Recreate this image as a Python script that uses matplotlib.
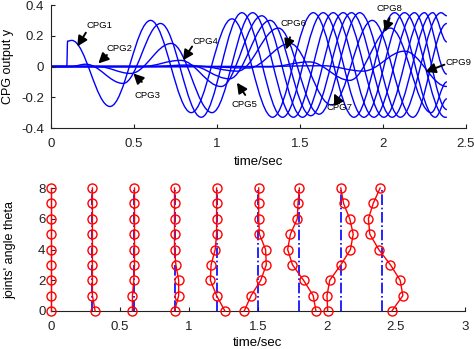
import matplotlib
matplotlib.use("Agg")
import matplotlib.pyplot as plt
from matplotlib.path import Path
from matplotlib.patches import PathPatch

plt.rcParams['font.family'] = ['Liberation Sans', 'DejaVu Sans']

# upper panel: turning points (time, output) of each CPG
cpg1_t = [0, 0.095, 0.10, 0.125, 0.355, 0.60, 0.845, 1.09, 1.335, 1.58, 1.825, 2.07, 2.315, 2.385]
cpg1_y = [0, 0, 0.165, 0.17, -0.26, 0.30, -0.30, 0.31, -0.33, 0.35, -0.33, 0.35, -0.33, -0.21]
cpg2_t = [0, 0.12, 0.21, 0.435, 0.66, 0.905, 1.15, 1.395, 1.64, 1.885, 2.13, 2.375, 2.385]
cpg2_y = [0, 0, 0.015, -0.11, 0.28, -0.33, 0.35, -0.33, 0.35, -0.33, 0.35, -0.33, -0.33]
cpg3_t = [0, 0.28, 0.48, 0.725, 0.97, 1.215, 1.46, 1.70, 1.945, 2.19, 2.385]
cpg3_y = [0, 0, -0.045, 0.15, -0.30, 0.35, -0.33, 0.35, -0.33, 0.35, -0.28]
cpg4_t = [0, 0.55, 0.78, 1.025, 1.27, 1.515, 1.76, 2.005, 2.25, 2.385]
cpg4_y = [0, 0, 0.04, -0.13, 0.33, -0.33, 0.35, -0.33, 0.35, -0.05]
cpg5_t = [0, 0.6, 0.83, 1.075, 1.32, 1.565, 1.81, 2.055, 2.30, 2.385]
cpg5_y = [0, 0, 0.01, -0.08, 0.30, -0.32, 0.35, -0.33, 0.35, 0.16]
cpg6_t = [0, 0.7, 0.88, 1.125, 1.37, 1.615, 1.86, 2.105, 2.35, 2.385]
cpg6_y = [0, 0, 0.003, -0.03, 0.25, -0.31, 0.35, -0.33, 0.35, 0.33]
cpg7_t = [0, 0.9, 1.19, 1.44, 1.69, 1.935, 2.18, 2.385]
cpg7_y = [0, 0, -0.01, 0.15, -0.25, 0.30, -0.33, 0.28]
cpg8_t = [0, 1.1, 1.31, 1.555, 1.80, 2.045, 2.29, 2.385]
cpg8_y = [0, 0, -0.003, 0.03, -0.09, 0.25, -0.30, -0.10]
cpg9_t = [0, 1.2, 1.64, 1.88, 2.13, 2.385]
cpg9_y = [0, 0, 0.005, -0.03, 0.10, -0.13]

# lower panel: snapshot times and joint positions (joint 0..8)
snap_times = [0, 0.3, 0.6, 0.9, 1.2, 1.5, 1.8, 2.1, 2.4]
joints = [0, 1, 2, 3, 4, 5, 6, 7, 8]
pose0 = [0, 0, 0, 0, 0, 0, 0, 0, 0]
pose1 = [0.32, 0.30, 0.30, 0.30, 0.30, 0.30, 0.30, 0.30, 0.30]
pose2 = [0.59, 0.59, 0.60, 0.605, 0.605, 0.605, 0.605, 0.605, 0.605]
pose3 = [0.895, 0.925, 0.925, 0.905, 0.895, 0.895, 0.895, 0.895, 0.895]
pose4 = [1.26, 1.20, 1.155, 1.16, 1.19, 1.20, 1.20, 1.20, 1.20]
pose5 = [1.40, 1.45, 1.52, 1.56, 1.555, 1.51, 1.505, 1.505, 1.505]
pose6 = [1.92, 1.90, 1.83, 1.75, 1.715, 1.735, 1.785, 1.79, 1.80]
pose7 = [2.005, 2.0, 2.02, 2.10, 2.17, 2.19, 2.165, 2.12, 2.10]
pose8 = [2.47, 2.55, 2.53, 2.46, 2.375, 2.31, 2.30, 2.335, 2.385]


def smooth_curve(ts, ys):
    # cubic pieces with flat tangents at every turning point
    verts = [(ts[0], ys[0])]
    codes = [Path.MOVETO]
    for i in range(1, len(ts)):
        d = (ts[i] - ts[i - 1]) * 0.3634
        verts += [(ts[i - 1] + d, ys[i - 1]), (ts[i] - d, ys[i]), (ts[i], ys[i])]
        codes += [Path.CURVE4] * 3
    return Path(verts, codes)


fig = plt.figure(figsize=(4.74, 3.49), dpi=100)
ax1 = fig.add_axes([0.1076, 0.6332, 0.8755, 0.3524])
ax2 = fig.add_axes([0.1076, 0.1089, 0.8734, 0.3524])

for ts, ys in [(cpg1_t, cpg1_y), (cpg2_t, cpg2_y), (cpg3_t, cpg3_y),
               (cpg4_t, cpg4_y), (cpg5_t, cpg5_y), (cpg6_t, cpg6_y),
               (cpg7_t, cpg7_y), (cpg8_t, cpg8_y), (cpg9_t, cpg9_y)]:
    ax1.add_patch(PathPatch(smooth_curve(ts, ys), fill=False, edgecolor='b', lw=1.0))

ax1.set_xlim(0, 2.5)
ax1.set_ylim(-0.4, 0.4)
ax1.set_xticks([0, 0.5, 1, 1.5, 2, 2.5])
ax1.set_xticklabels(['0', '0.5', '1', '1.5', '2', '2.5'])
ax1.set_yticks([-0.4, -0.2, 0, 0.2, 0.4])
ax1.set_yticklabels(['-0.4', '-0.2', '0', '0.2', '0.4'])
ax1.set_xlabel('time/sec', fontsize=9.5)
ax1.set_ylabel('CPG output y', fontsize=9)
ax1.xaxis.set_label_coords(0.5, -0.225)
ax1.yaxis.set_label_coords(-0.088, 0.5)

arrow = dict(arrowstyle='-|>,head_length=0.6,head_width=0.3', color='k',
             lw=1.4, shrinkA=0, shrinkB=0)
labels = [('CPG1', (0.215, 0.264), (0.21, 0.22), (0.158, 0.13)),
          ('CPG2', (0.337, 0.12), (0.337, 0.075), (0.285, 0.02)),
          ('CPG3', (0.506, -0.19), (0.547, -0.10), (0.496, -0.045)),
          ('CPG4', (0.85, 0.16), (0.85, 0.13), (0.795, 0.04)),
          ('CPG5', (1.09, -0.245), (1.17, -0.185), (1.12, -0.105)),
          ('CPG6', (1.38, 0.28), (1.44, 0.19), (1.415, 0.11)),
          ('CPG7', (1.66, -0.265), (1.735, -0.24), (1.705, -0.175)),
          ('CPG8', (1.96, 0.38), (2.04, 0.315), (2.01, 0.225)),
          ('CPG9', (2.378, 0.025), (2.37, 0.012), (2.255, -0.035))]
for name, txt, tail, tip in labels:
    ax1.annotate('', xy=tip, xytext=tail, arrowprops=arrow, annotation_clip=False)
    ax1.text(txt[0], txt[1], name, fontsize=6.8, ha='left', va='center', clip_on=False)

poses = [pose0, pose1, pose2, pose3, pose4, pose5, pose6, pose7, pose8]
for t, p in zip(snap_times, poses):
    ax2.plot([t, t], [0, 8], color='b', ls='-.', lw=1.2)
    ax2.plot(p, joints, color='r', lw=1.0, marker='o', ms=6.5, mfc='none',
             mec='r', mew=1.0, clip_on=False, zorder=3)

ax2.set_xlim(0, 3)
ax2.set_ylim(0, 8)
ax2.set_xticks([0, 0.5, 1, 1.5, 2, 2.5, 3])
ax2.set_xticklabels(['0', '0.5', '1', '1.5', '2', '2.5', '3'])
ax2.set_yticks([0, 2, 4, 6, 8])
ax2.set_xlabel('time/sec', fontsize=9.5)
ax2.set_ylabel("joints' angle theta", fontsize=9)
ax2.xaxis.set_label_coords(0.5, -0.21)
ax2.yaxis.set_label_coords(-0.085, 0.5)

for ax in (ax1, ax2):
    ax.spines['top'].set_visible(False)
    ax.spines['right'].set_visible(False)
    ax.spines['left'].set_color('#222222')
    ax.spines['bottom'].set_color('#222222')
    ax.tick_params(direction='in', length=3, labelsize=9.5, colors='#222222')
    ax.tick_params(axis='x', pad=7)
ax1.tick_params(axis='y', pad=5)
ax2.tick_params(axis='y', pad=4)

fig.savefig('out.png', dpi=100)
